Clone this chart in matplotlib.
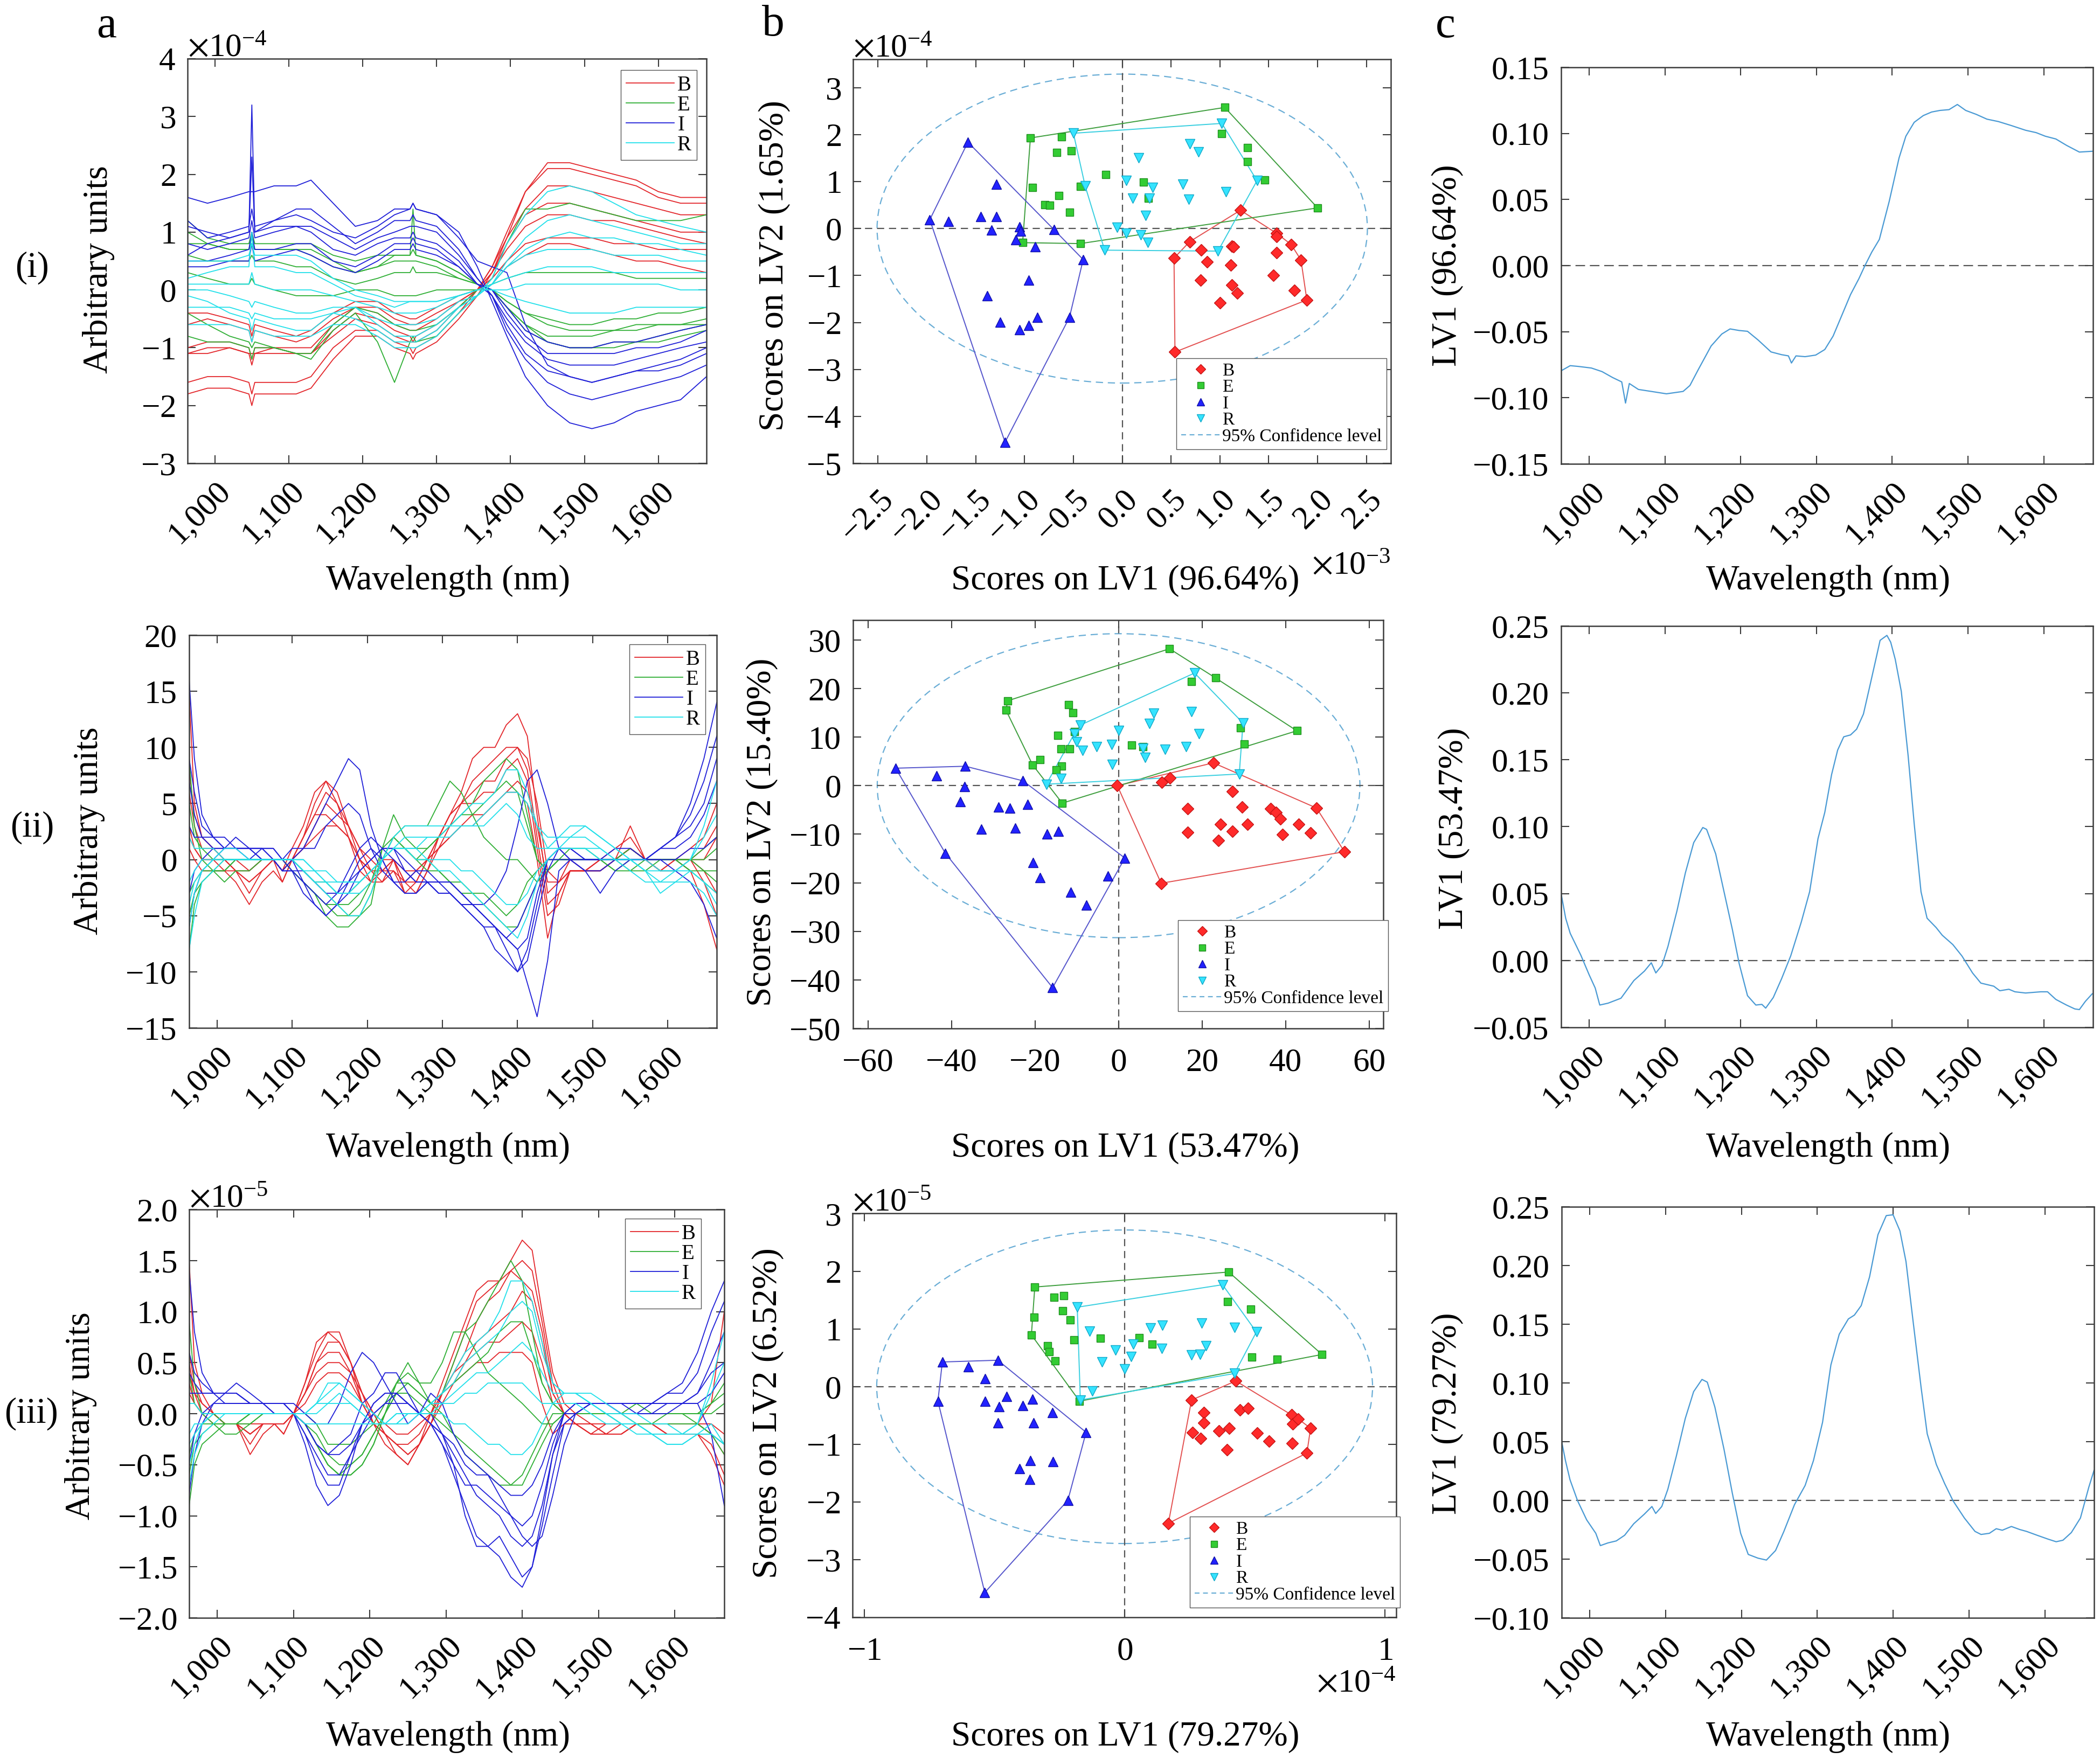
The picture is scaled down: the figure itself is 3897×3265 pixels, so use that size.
import numpy as np
import matplotlib
matplotlib.use('Agg')
import matplotlib.pyplot as plt
from matplotlib.patches import Ellipse
from matplotlib.lines import Line2D
from matplotlib.ticker import FuncFormatter, MultipleLocator

# ----------------------------------------------------------------------------
# DATA
# ----------------------------------------------------------------------------
classes = ['B', 'E', 'I', 'R']

# ---- column a, row (i): spectra, units of 1e-5 -------------------------------
wl_a1 = [963, 990, 1020, 1046, 1050, 1054, 1080, 1110, 1130, 1160, 1190, 1220, 1243, 1264, 1268,
         1272, 1300, 1330, 1355, 1375, 1395, 1420, 1450, 1480, 1510, 1540, 1570, 1600, 1630, 1665]
a1_B = [
    [-18, -17, -17, -18, -20, -18, -18, -18, -17, -12, -8, -8, -10, -11, -12, -11, -9, -5, -1, 3, 9, 17, 22, 22, 21, 20, 19, 17, 16, 16],
    [-16, -15, -15, -16, -18, -16, -16, -16, -15, -10, -7, -7, -9, -10, -11, -10, -8, -4, 0, 4, 10, 17, 21, 21, 20, 19, 18, 16, 15, 15],
    [-11, -10, -10, -11, -13, -11, -11, -11, -11, -7, -4, -5, -7, -8, -9, -8, -6, -3, 0, 3, 8, 13, 15, 15, 14, 13, 12, 11, 10, 10],
    [-10, -9, -9, -10, -12, -10, -10, -10, -10, -6, -3, -4, -6, -7, -7, -7, -5, -2, 0, 3, 7, 11, 13, 13, 12, 12, 11, 10, 9, 8],
    [-6, -5, -6, -7, -9, -7, -8, -9, -8, -5, -3, -3, -5, -6, -6, -6, -4, -2, 0, 2, 5, 8, 9, 9, 9, 8, 8, 7, 7, 7],
    [-4, -4, -5, -6, -8, -6, -7, -8, -7, -4, -2, -2, -4, -5, -5, -5, -3, -1, 0, 1, 4, 6, 8, 8, 7, 6, 5, 5, 4, 3],
    [-11, -11, -10, -11, -11, -11, -10, -11, -11, -8, -5, -6, -8, -9, -9, -9, -7, -3, 0, 4, 9, 14, 18, 18, 17, 16, 15, 14, 13, 13],
]
a1_E = [
    [12, 9, 8, 8, 10, 8, 8, 8, 8, 6, 5, 6, 6, 6, 14, 6, 5, 3, 1, 0, -3, -6, -8, -8, -8, -7, -7, -6, -6, -5],
    [8, 8, 7, 7, 9, 7, 7, 7, 7, 5, 3, 4, 5, 5, 5, 5, 4, 2, 1, 0, -3, -6, -9, -10, -10, -9, -9, -8, -7, -6],
    [6, 5, 5, 5, 6, 5, 5, 4, 4, 2, 1, 2, 3, 3, 4, 3, 3, 2, 1, 0, -2, -4, -5, -6, -6, -5, -5, -4, -4, -3],
    [-4, -6, -8, -9, -10, -9, -10, -11, -12, -7, -4, -9, -16, -9, -8, -9, -8, -4, -1, 2, 8, 14, 14, 15, 14, 13, 12, 12, 12, 13],
    [-8, -9, -9, -10, -12, -10, -10, -11, -11, -6, -3, -4, -6, -7, -7, -7, -6, -3, 0, 1, 2, 3, 3, 3, 3, 3, 2, 2, 2, 2],
    [3, 2, 1, 1, 2, 1, 0, -1, -1, -1, 0, 0, -1, -1, -1, -1, 0, 0, 0, 0, -2, -4, -6, -7, -7, -7, -6, -6, -6, -6],
    [10, 8, 7, 7, 8, 7, 7, 7, 6, 4, 3, 4, 6, 6, 7, 6, 5, 3, 1, 0, -3, -7, -9, -10, -10, -10, -9, -9, -8, -7],
]
a1_I = [
    [16, 15, 16, 17, 17, 17, 18, 18, 19, 15, 11, 12, 14, 14, 15, 14, 13, 10, 4, -2, -8, -15, -20, -23, -24, -23, -21, -20, -19, -15],
    [6, 8, 9, 10, 32, 10, 12, 14, 14, 11, 8, 10, 12, 12, 13, 12, 11, 7, 2, -1, -7, -12, -16, -18, -19, -18, -17, -16, -15, -13],
    [11, 10, 9, 10, 23, 10, 11, 11, 11, 9, 7, 9, 10, 11, 11, 11, 10, 6, 2, -1, -6, -11, -14, -15, -16, -15, -14, -13, -12, -10],
    [8, 7, 8, 9, 12, 9, 10, 11, 10, 7, 6, 8, 9, 9, 10, 9, 8, 5, 1, -1, -5, -9, -12, -13, -13, -13, -12, -11, -10, -9],
    [5, 5, 6, 7, 10, 7, 7, 8, 8, 5, 4, 6, 8, 8, 9, 8, 7, 4, 1, 0, -4, -8, -11, -11, -11, -11, -10, -10, -9, -7],
    [4, 4, 5, 5, 8, 5, 6, 7, 6, 4, 3, 5, 7, 7, 8, 7, 6, 4, 1, 0, -3, -7, -9, -10, -10, -9, -9, -8, -7, -6],
    [12, 9, 10, 11, 14, 11, 12, 13, 12, 10, 9, 11, 13, 14, 15, 14, 13, 9, 5, 4, 3, -6, -13, -15, -16, -15, -14, -14, -13, -11],
]
a1_R = [
    [-1, -2, -4, -5, -7, -5, -6, -7, -7, -4, -3, -6, -8, -8, -8, -8, -6, -3, -1, 2, 8, 13, 17, 18, 17, 15, 13, 12, 11, 10],
    [0, 0, -1, -2, -3, -2, -3, -4, -4, -3, -3, -5, -6, -6, -6, -6, -5, -2, -1, 1, 5, 9, 12, 13, 12, 11, 10, 9, 8, 8],
    [2, 3, 4, 4, 10, 4, 4, 3, 3, 1, -1, -2, -3, -2, -2, -2, -2, -1, 0, 1, 2, 3, 4, 4, 4, 3, 3, 3, 3, 3],
    [-3, -3, -3, -4, -5, -4, -5, -5, -5, -4, -5, -7, -9, -9, -9, -9, -7, -3, -1, 1, 4, 7, 9, 10, 9, 9, 8, 8, 7, 6],
    [5, 5, 5, 6, 8, 6, 6, 6, 5, 2, 0, -1, -2, -2, -2, -2, -2, -1, 0, 0, -1, -2, -3, -4, -4, -4, -3, -3, -3, -3],
    [-6, -6, -6, -7, -9, -7, -8, -8, -8, -6, -6, -8, -10, -10, -10, -10, -8, -4, -1, 1, 4, 6, 7, 7, 7, 6, 6, 6, 5, 5],
    [1, 1, 1, 1, 3, 1, 0, 0, 0, -1, -2, -3, -4, -4, -4, -4, -3, -1, 0, 0, 0, 1, 1, 1, 1, 1, 1, 1, 0, 0],
]

# ---- column a, rows (ii) and (iii): derivative spectra ----------------------
wl_a23 = [963, 970, 980, 995, 1010, 1025, 1043, 1060, 1075, 1087,
          1100, 1115, 1130, 1145, 1160, 1175, 1190, 1205, 1220, 1235,
          1250, 1265, 1280, 1295, 1310, 1325, 1340, 1355, 1370, 1385,
          1400, 1413, 1426, 1440, 1455, 1470, 1490, 1510, 1530, 1550,
          1570, 1590, 1610, 1630, 1648, 1665]
# row (ii), arbitrary units
a2_B = [
    [15, 5, 2, 1, 0, -1, -2, -1, 0, -1, 1, 3, 6, 7, 5, 2, -1, -2, -1, 0, -2, -3, -1, 2, 4, 6, 9, 10, 10, 12, 13, 11, 4, -3, -2, 0, -1, -1, 0, 1, 0, -1, 0, -1, -4, -8],
    [3, 1, 0, 0, -1, -2, -4, -2, -1, -2, 0, 2, 5, 7, 6, 3, 0, -1, -2, -1, -3, -3, -1, 1, 3, 5, 7, 8, 9, 10, 10, 8, 2, -4, -3, -1, -1, 0, 1, 2, 0, -1, 0, 0, -2, -5],
    [6, 3, 1, 1, 0, -1, -2, -1, 0, -1, 0, 1, 3, 5, 4, 3, 1, -1, -1, 0, -2, -2, 0, 2, 4, 5, 5, 6, 6, 8, 9, 7, 1, -5, -4, -1, -1, -1, 0, 1, 0, 0, 0, 1, 2, 5],
    [1, 0, -1, -1, -1, -1, -3, -1, 0, -2, 0, 2, 4, 4, 3, 2, 0, -2, -2, 0, -3, -2, 0, 1, 2, 3, 3, 4, 5, 6, 6, 5, 0, -7, -3, -1, -1, -1, 0, 3, 0, -1, -1, 0, 0, 2],
    [8, 4, 2, 1, 0, 0, -1, 0, 0, -1, 0, 2, 4, 6, 5, 3, 1, 0, -1, -1, -2, -1, 0, 2, 4, 5, 6, 7, 7, 9, 10, 9, 5, -1, -2, -1, -1, 0, 0, 1, 0, 0, 0, 0, -1, -3],
    [2, 1, 0, 0, 0, -1, -1, 0, 0, -1, 0, 1, 2, 3, 3, 2, 0, -1, 0, 0, -1, -1, 0, 1, 2, 3, 4, 4, 5, 6, 7, 6, 3, -2, -2, -1, -1, 0, 0, 1, 0, 0, 0, 0, 1, 3],
]
a2_E = [
    [9, 3, 0, -1, -2, -1, -1, 0, 0, 0, -1, -2, -3, -4, -5, -5, -5, -4, 1, 4, 2, 1, 1, 2, 3, 4, 5, 7, 8, 9, 8, 4, 0, -1, 0, 1, 1, 0, -1, 0, 0, 0, 0, -1, -1, -1],
    [-8, -4, -2, -1, 0, 0, 0, 0, 0, 0, -1, -2, -3, -5, -6, -6, -5, -3, 0, 2, 3, 3, 3, 5, 7, 6, 4, 2, 1, 0, 0, -1, -2, -1, 0, 0, 0, 0, 0, 0, 0, 0, 0, 0, 1, 2],
    [-3, -2, -1, -1, -1, 0, 0, 0, 0, 0, -1, -2, -3, -4, -4, -4, -3, -2, 1, 2, 1, 0, 0, -1, -2, -3, -3, -4, -5, -6, -6, -4, -2, 0, 0, 0, 0, 0, 0, -1, 0, 0, 0, -1, -2, -3],
    [5, 2, 1, 0, 0, 0, 0, 0, 0, 0, 0, -1, -2, -2, -3, -3, -2, -1, 0, 2, 1, 0, 1, 2, 3, 4, 4, 5, 6, 7, 6, 3, 0, -1, 0, 0, 0, 0, 0, 1, 0, 0, 0, 0, 0, 1],
    [-5, -3, -2, -1, -1, 0, 0, 0, 0, 0, 0, -1, -2, -3, -4, -5, -4, -2, 0, 1, 1, 0, -1, -1, -2, -2, -3, -3, -4, -5, -4, -2, -1, 0, 0, 0, 0, 0, -1, -1, -1, 0, 0, 0, -1, -2],
]
a2_I = [
    [16, 9, 4, 2, 1, 1, 1, 1, 1, 0, -1, -3, -4, -5, -4, -2, 0, 1, 0, -2, -3, -3, -2, -3, -3, -4, -5, -6, -6, -7, -8, -11, -14, -9, -1, 0, -1, -1, 0, 0, 0, 1, 2, 5, 9, 14],
    [9, 6, 3, 2, 2, 1, 1, 0, 0, -1, 0, 1, 3, 5, 7, 9, 8, 3, 0, -2, -3, -3, -2, -2, -3, -4, -4, -5, -6, -8, -10, -9, -5, -1, 1, 0, -1, -3, -1, 0, 0, 1, 2, 4, 7, 11],
    [-6, -3, -1, 0, 1, 2, 1, 1, 0, -1, -1, -2, -3, -4, -3, -1, 1, 2, 1, 0, -1, -2, -2, -2, -2, -3, -4, -4, -3, -1, 3, 7, 8, 5, 1, 0, 0, 0, 0, 0, 0, 0, 0, 1, 1, 2],
    [7, 4, 2, 1, 1, 1, 0, 1, 1, 0, 0, -2, -4, -5, -4, -3, -1, 0, 1, 1, -1, -2, -2, -3, -3, -4, -5, -6, -8, -9, -10, -8, -4, 0, 1, 1, 0, 0, 0, 0, 0, 1, 1, 2, 4, 7],
    [-3, -1, 0, 1, 1, 1, 1, 0, 0, -1, -1, -1, -2, -3, -3, -2, -1, 0, 1, 1, 0, -1, -2, -3, -3, -4, -4, -5, -6, -7, -6, -4, -2, 0, 0, 0, 0, 0, 0, 0, 0, 0, -1, -2, -4, -7],
    [3, 2, 2, 2, 1, 1, 1, 1, 0, 0, 1, 1, 1, 3, 4, 5, 4, 1, -1, -2, -2, -1, -1, -2, -2, -3, -4, -5, -6, -7, -8, -7, -3, 0, 1, 1, 0, 0, 1, 1, 0, 1, 2, 3, 5, 9],
]
a2_R = [
    [-8, -5, -2, -1, 0, 0, 0, 0, 0, 0, 0, -1, -2, -3, -4, -5, -5, -3, 0, 1, 1, 1, 2, 2, 3, 4, 5, 5, 6, 8, 8, 6, 3, 1, 1, 2, 3, 2, 1, 0, -1, -1, -1, 0, 3, 7],
    [-4, -2, -1, 0, 0, 0, 0, 0, 0, 0, 0, -1, -2, -2, -3, -3, -2, -1, 0, 1, 2, 2, 2, 2, 2, 3, 3, 4, 5, 6, 6, 5, 3, 2, 2, 2, 2, 1, 0, -1, -2, -2, -1, -1, -2, -3],
    [2, 1, 1, 1, 0, 0, 0, 0, 0, 0, 0, 0, -1, -1, -2, -2, -2, -1, 0, 1, 1, 1, 0, -1, -1, -2, -3, -4, -5, -6, -7, -5, -2, 0, 1, 1, 1, 1, 0, 0, -1, -3, -2, -1, -2, -4],
    [-6, -3, -1, 0, 1, 1, 0, 0, 0, 0, 0, 0, -1, -2, -3, -3, -3, -2, 0, 2, 3, 3, 3, 3, 3, 3, 3, 3, 4, 5, 4, 2, 1, 1, 2, 3, 3, 2, 1, 0, 0, -1, -1, 0, 2, 4],
    [-2, -1, 0, 0, 0, 0, 0, 0, 0, 0, 0, -1, -1, -2, -2, -2, -2, -1, 0, 1, 1, 0, 0, 0, 0, -1, -1, -2, -3, -4, -4, -3, -1, 0, 1, 1, 1, 0, 0, 0, -1, -2, -2, -2, -3, -5],
]
# row (iii), units of 1e-6
a3_B = [
    [15, 5, 2, 0, -1, -1, -4, -2, -1, -2, 0, 3, 7, 8, 8, 5, 1, -1, -2, -4, -5, -3, -1, 2, 5, 8, 11, 12, 13, 15, 17, 16, 10, 4, 1, 0, -1, -2, -2, -1, -1, -2, -2, -2, -4, -7],
    [4, 2, 0, -1, -1, -1, -3, -1, -1, -2, 0, 3, 6, 8, 7, 5, 2, -1, -3, -4, -5, -3, -1, 2, 4, 6, 9, 11, 12, 14, 15, 14, 9, 3, 0, -1, -1, -2, -1, -1, -1, -1, -1, -1, 1, 10],
    [2, 1, 0, 0, -1, -1, -2, -1, -1, -1, 0, 2, 5, 6, 6, 4, 1, -1, -2, -3, -4, -3, -1, 1, 3, 5, 7, 8, 9, 10, 12, 11, 7, 2, 0, -1, -2, -2, -2, -1, -1, -2, -2, -2, -3, -6],
    [6, 3, 1, 0, -1, -1, -2, -1, -1, -1, 0, 2, 4, 5, 5, 4, 2, 0, -2, -3, -3, -2, 0, 2, 4, 5, 6, 7, 7, 8, 9, 8, 5, 1, 0, -1, -2, -1, -1, -1, -1, -1, -1, -1, -2, -4],
    [3, 1, 0, 0, -1, -1, -1, -1, -1, -1, 0, 1, 3, 4, 4, 3, 1, 0, -1, -2, -2, -1, 0, 2, 3, 4, 5, 5, 6, 6, 6, 5, 1, -2, -1, -1, -1, -1, -1, -1, -1, -1, -1, -1, -1, -2],
    [5, 2, 1, 0, -1, -1, -2, -1, -1, -1, 0, 2, 5, 7, 7, 5, 2, 0, -2, -3, -4, -3, 0, 3, 6, 9, 12, 13, 13, 14, 13, 12, 8, 2, 0, -1, -2, -2, -2, -1, -1, -2, -2, -2, -2, -3],
]
a3_E = [
    [9, 3, 0, -1, -2, -2, -1, 0, 0, 0, 0, -1, -3, -5, -6, -6, -5, -3, 0, 3, 5, 3, 1, 2, 5, 8, 9, 11, 13, 15, 13, 8, 3, 1, 0, 0, 0, 0, 0, 1, 0, 0, 0, 0, 0, 1],
    [-9, -5, -3, -2, -1, -1, -1, 0, 0, 0, 0, -1, -3, -5, -6, -6, -5, -3, 0, 3, 4, 3, 3, 5, 8, 8, 6, 4, 3, 2, 1, 0, -1, -1, 0, 0, 0, 0, 0, 0, 0, 0, 0, 0, 1, 3],
    [-4, -2, -1, -1, -1, -1, 0, 0, 0, 0, 0, -1, -2, -4, -5, -5, -4, -2, 0, 2, 3, 2, 1, 0, -2, -4, -5, -6, -7, -7, -7, -5, -3, -1, 0, 0, 0, 0, -1, -1, -1, -1, -1, -1, -2, -4],
    [4, 1, 0, 0, -1, -1, 0, 0, 0, 0, 0, 0, -1, -3, -3, -3, -2, -1, 1, 3, 3, 2, 1, 2, 3, 4, 5, 6, 8, 9, 9, 6, 3, 1, 0, 0, 0, 0, 0, 0, 0, 0, 0, 0, 1, 2],
    [-6, -3, -2, -1, -1, -1, 0, 0, 0, 0, 0, -1, -3, -5, -6, -5, -4, -2, 0, 2, 2, 1, 0, -1, -2, -3, -4, -5, -6, -7, -6, -4, -2, 0, 0, 0, 0, 0, 0, -1, -1, 0, 0, -1, -2, -3],
]
a3_I = [
    [14, 8, 4, 2, 2, 2, 1, 1, 1, 1, 0, -2, -5, -7, -7, -4, -1, 1, 2, 2, 1, 0, -1, -3, -6, -9, -12, -13, -14, -16, -17, -15, -10, -4, 0, 1, 1, 1, 1, 1, 1, 2, 3, 6, 10, 13],
    [6, 4, 3, 2, 2, 2, 1, 1, 1, 1, 0, -3, -7, -9, -8, -5, -1, 1, 2, 2, 1, 0, 0, -2, -5, -10, -13, -13, -12, -14, -16, -15, -11, -6, -1, 0, 1, 1, 1, 1, 1, 2, 2, 4, 8, 11],
    [-8, -4, -1, 1, 2, 3, 2, 1, 1, 1, 1, 0, -1, -1, 1, 4, 6, 5, 3, 1, -1, 0, 2, 1, -2, -4, -5, -6, -8, -10, -12, -13, -12, -8, -3, 0, 1, 1, 1, 1, 1, 1, 1, 1, -2, -9],
    [-5, -2, 0, 1, 1, 1, 1, 1, 0, 0, 0, -1, -3, -4, -3, -2, 1, 2, 4, 4, 2, 0, -1, -3, -5, -7, -7, -8, -9, -10, -11, -10, -7, -3, 0, 1, 1, 1, 0, 0, 1, 1, 1, 2, 4, 5],
    [4, 3, 2, 2, 1, 1, 1, 1, 0, 0, 0, -2, -4, -6, -6, -4, -2, 0, 1, 2, 1, 0, -1, -2, -4, -6, -8, -9, -10, -12, -13, -12, -9, -4, -1, 0, 1, 1, 1, 0, 0, 1, 1, 2, 5, 8],
    [2, 2, 2, 2, 2, 2, 1, 1, 1, 1, 0, -1, -3, -4, -4, -3, -1, 0, 1, 1, 1, 0, -1, -2, -3, -5, -6, -6, -7, -8, -8, -7, -5, -2, 0, 0, 1, 1, 0, 0, 0, 0, 1, 1, 2, 4],
]
a3_R = [
    [-7, -4, -2, -1, 0, 0, 0, 0, 0, 0, 0, 0, 1, 2, 3, 2, 1, 0, -1, -1, -1, 0, 1, 2, 4, 6, 7, 8, 10, 13, 13, 11, 7, 3, 2, 2, 1, 0, -1, -1, -2, -2, -2, -1, 3, 8],
    [-3, -2, -1, 0, 0, 0, 0, 0, 0, 0, 0, 0, 1, 3, 3, 2, 1, 0, -1, -1, 0, 0, 1, 2, 3, 5, 6, 7, 8, 10, 11, 10, 6, 3, 2, 2, 2, 1, 0, -1, -2, -3, -3, -2, -1, -3],
    [1, 1, 0, 0, 0, 0, 0, 0, 0, 0, 0, -1, -1, -1, -1, -1, -1, -1, -1, 0, 0, 0, 0, 0, -1, -1, -2, -3, -3, -4, -4, -3, -1, 1, 2, 2, 1, 0, 0, 0, -1, -1, -2, -2, -2, -3],
    [-5, -3, -1, 0, 0, 0, 0, 0, 0, 0, 0, 0, 0, 1, 1, 1, 0, -1, -1, 0, 0, 0, 1, 1, 2, 3, 4, 4, 5, 6, 7, 6, 4, 2, 2, 2, 1, 0, -1, -1, -2, -2, -2, -1, 2, 5],
    [-2, -1, -1, 0, 0, 0, 0, 0, 0, 0, 0, 0, 1, 1, 2, 1, 0, -1, -1, -1, 0, 0, 0, 1, 1, 2, 2, 3, 3, 3, 3, 2, 1, 1, 1, 1, 0, -1, -1, -2, -2, -3, -3, -2, -2, -3],
]

# ---- column b: scores (LV1, LV2) --------------------------------------------
# row (i): LV1 in 1e-3, LV2 in 1e-4
b1_B = [(1.21, 0.39), (1.58, -0.10), (1.58, -0.17), (1.73, -0.34), (0.69, -0.28), (0.53, -0.63), (0.81, -0.46),
        (0.87, -0.71), (1.12, -0.37), (1.14, -0.39), (1.11, -0.78), (1.58, -0.51), (1.83, -0.67), (0.80, -1.10),
        (1.12, -1.20), (1.18, -1.37), (1.00, -1.58), (1.55, -1.00), (1.76, -1.32), (1.89, -1.52), (0.54, -2.63)]
b1_E = [(-0.94, 1.93), (-0.62, 1.95), (-0.67, 1.62), (-0.52, 1.65), (-0.17, 1.15), (-0.92, 0.87), (-0.43, 0.90),
        (-0.65, 0.70), (-0.79, 0.51), (-0.74, 0.50), (-0.54, 0.35), (-1.02, -0.30), (-0.43, -0.32), (1.05, 2.58),
        (1.02, 2.02), (1.28, 1.72), (1.28, 1.43), (1.46, 1.03), (2.00, 0.44), (0.22, 0.99), (0.27, 0.64)]
b1_I = [(-1.58, 1.84), (-1.29, 0.94), (-1.97, 0.19), (-1.78, 0.15), (-1.45, 0.25), (-1.29, 0.25), (-1.34, -0.03),
        (-1.05, 0.04), (-1.04, -0.05), (-1.09, -0.24), (-0.89, -0.39), (-0.70, -0.02), (-0.40, -0.66), (-0.96, -1.10),
        (-1.38, -1.43), (-1.25, -1.99), (-1.05, -2.16), (-0.96, -2.06), (-0.87, -1.89), (-0.54, -1.89), (-1.20, -4.55)]
b1_R = [(-0.50, 2.03), (1.02, 2.24), (-0.38, 0.91), (0.17, 1.51), (0.69, 1.80), (0.78, 1.63), (0.04, 1.02),
        (0.31, 0.88), (0.62, 0.94), (1.06, 0.78), (1.38, 1.02), (0.11, 0.64), (0.28, 0.64), (0.24, 0.28),
        (0.68, 0.62), (-0.05, 0.03), (0.04, -0.10), (0.19, -0.14), (0.26, -0.30), (-0.18, -0.46), (0.98, -0.48)]
# row (ii): plain units
b2_B = [(-0.3, 0.0), (10.4, 0.7), (12.3, 1.6), (22.7, 4.7), (27.2, -1.2), (16.6, -4.7), (29.6, -4.4), (36.4, -4.7),
        (37.7, -5.5), (38.8, -6.8), (47.4, -4.6), (16.6, -9.6), (24.4, -7.9), (30.9, -8.0), (23.9, -11.3),
        (27.2, -9.4), (39.3, -10.1), (43.2, -7.9), (46.0, -9.7), (54.1, -13.6), (10.2, -20.1)]
b2_E = [(-26.5, 17.5), (-27.0, 15.6), (12.2, 28.2), (23.2, 22.2), (17.4, 21.4), (-12.0, 16.7), (-10.9, 15.0),
        (-14.6, 10.4), (-10.6, 11.1), (-13.8, 7.6), (-11.7, 7.6), (-18.8, 5.4), (-20.6, 4.3), (-13.7, 4.0),
        (-14.9, 3.3), (-13.5, -3.6), (3.1, 8.4), (5.9, 8.0), (29.2, 11.9), (30.1, 8.6), (42.7, 11.3)]
b2_I = [(-53.4, 3.6), (-36.7, 4.0), (-43.6, 2.0), (-36.9, -0.2), (-37.9, -3.3), (-22.9, 1.0), (-28.7, -4.4),
        (-26.0, -4.6), (-21.8, -3.8), (-32.9, -8.9), (-24.7, -8.7), (-17.1, -10.0), (-14.4, -9.4), (-41.5, -13.9),
        (-20.5, -15.8), (-18.8, -18.9), (-11.4, -21.9), (-7.7, -24.6), (-2.5, -18.6), (1.5, -14.9), (-15.8, -41.6)]
b2_R = [(18.2, 23.2), (29.8, 12.9), (28.9, 2.4), (-17.3, 0.3), (-13.8, 1.5), (-9.1, 12.5), (-10.6, 10.7),
        (-10.0, 9.0), (-8.6, 7.2), (-5.3, 8.0), (-1.6, 8.5), (0.0, 11.4), (-1.5, 4.4), (8.4, 14.9), (7.4, 12.8),
        (5.9, 7.7), (6.3, 5.8), (11.1, 7.5), (16.1, 8.0), (17.5, 15.2), (19.2, 10.7)]
# row (iii): LV1 in 1e-4, LV2 in 1e-5
b3_B = [(0.427, 0.10), (0.257, -0.23), (0.305, -0.45), (0.304, -0.63), (0.261, -0.79), (0.292, -0.90),
        (0.362, -0.77), (0.401, -0.72), (0.443, -0.40), (0.473, -0.37), (0.393, -1.09), (0.509, -0.80),
        (0.554, -0.94), (0.641, -0.49), (0.645, -0.64), (0.667, -0.56), (0.714, -0.72), (0.643, -0.98),
        (0.700, -1.15), (0.168, -2.37)]
b3_E = [(-0.345, 1.73), (-0.271, 1.55), (-0.233, 1.58), (-0.238, 1.32), (-0.209, 1.16), (-0.348, 1.21),
        (-0.358, 0.90), (-0.194, 0.81), (-0.295, 0.71), (-0.290, 0.61), (-0.266, 0.45), (-0.173, -0.25),
        (-0.094, 0.84), (0.055, 0.85), (0.105, 0.74), (0.400, 1.99), (0.396, 1.48), (0.484, 1.35),
        (0.489, 0.51), (0.585, 0.48), (0.758, 0.56)]
b3_I = [(-0.700, 0.43), (-0.487, 0.46), (-0.600, 0.35), (-0.535, 0.14), (-0.717, -0.25), (-0.535, -0.25),
        (-0.482, -0.35), (-0.453, -0.17), (-0.391, -0.33), (-0.353, -0.21), (-0.487, -0.63), (-0.350, -0.63),
        (-0.278, -0.45), (-0.148, -0.79), (-0.362, -1.28), (-0.276, -1.30), (-0.403, -1.42), (-0.364, -1.61),
        (-0.218, -1.97), (-0.537, -3.57)]
b3_R = [(-0.182, 1.38), (0.376, 1.77), (0.506, 0.95), (0.422, 0.23), (-0.170, -0.23), (-0.125, -0.07),
        (-0.134, 0.96), (-0.036, 0.64), (-0.087, 0.43), (0.000, 0.31), (0.024, 0.52), (0.033, 0.74),
        (0.100, 1.02), (0.144, 1.07), (0.142, 0.66), (0.295, 1.10), (0.422, 1.03), (0.257, 0.55),
        (0.290, 0.56), (0.312, 0.71)]
# 95% confidence ellipses (semi-axes, same units as the scores above)
ell_b1 = (2.51, 3.29)
ell_b2 = (57.8, 31.3)
ell_b3 = (0.952, 2.72)
exp_b1 = (1e-3, 1e-4)
exp_b2 = (1.0, 1.0)
exp_b3 = (1e-4, 1e-5)

# ---- column c: LV1 loadings -------------------------------------------------
c1 = [(963, -0.0796), (975, -0.0757), (986, -0.0763), (1003, -0.0775), (1017, -0.0802), (1031, -0.0847),
      (1043, -0.0880), (1048, -0.1040), (1053, -0.0892), (1065, -0.0937), (1082, -0.0952), (1102, -0.0970),
      (1113, -0.0961), (1124, -0.0952), (1133, -0.0907), (1144, -0.0787), (1161, -0.0608), (1175, -0.0518),
      (1186, -0.0479), (1198, -0.0491), (1209, -0.0497), (1223, -0.0563), (1240, -0.0653), (1254, -0.0674),
      (1263, -0.0683), (1267, -0.0737), (1273, -0.0683), (1285, -0.0689), (1299, -0.0677), (1311, -0.0635),
      (1322, -0.0533), (1333, -0.0383), (1345, -0.0219), (1356, -0.0099), (1364, 0.0000), (1373, 0.0102),
      (1383, 0.0198), (1396, 0.0485), (1409, 0.0814), (1418, 0.0979), (1429, 0.1084), (1441, 0.1135),
      (1452, 0.1162), (1463, 0.1174), (1475, 0.1180), (1486, 0.1219), (1497, 0.1174), (1511, 0.1144),
      (1525, 0.1108), (1540, 0.1090), (1557, 0.1060), (1576, 0.1024), (1590, 0.1006), (1602, 0.0979),
      (1616, 0.0958), (1630, 0.0910), (1647, 0.0859), (1664, 0.0865)]
c2 = [(963, 0.0500), (969, 0.0316), (975, 0.0203), (989, 0.0040), (1000, -0.0107), (1008, -0.0206),
      (1014, -0.0333), (1025, -0.0319), (1042, -0.0282), (1059, -0.0150), (1073, -0.0079), (1082, -0.0017),
      (1088, -0.0093), (1096, -0.0037), (1104, 0.0105), (1116, 0.0373), (1127, 0.0655), (1138, 0.0881),
      (1150, 0.0994), (1155, 0.0980), (1167, 0.0797), (1178, 0.0514), (1189, 0.0232), (1198, -0.0023),
      (1209, -0.0263), (1220, -0.0333), (1228, -0.0328), (1233, -0.0356), (1243, -0.0277), (1254, -0.0136),
      (1266, 0.0034), (1280, 0.0288), (1291, 0.0514), (1302, 0.0910), (1311, 0.1107), (1320, 0.1390),
      (1328, 0.1573), (1336, 0.1672), (1345, 0.1686), (1353, 0.1729), (1362, 0.1842), (1370, 0.2040),
      (1379, 0.2266), (1384, 0.2393), (1393, 0.2430), (1398, 0.2379), (1404, 0.2251), (1412, 0.2011),
      (1421, 0.1531), (1429, 0.1023), (1438, 0.0514), (1446, 0.0316), (1458, 0.0246), (1466, 0.0189),
      (1480, 0.0119), (1492, 0.0034), (1506, -0.0093), (1517, -0.0169), (1534, -0.0192), (1542, -0.0226),
      (1554, -0.0215), (1562, -0.0234), (1576, -0.0243), (1596, -0.0234), (1605, -0.0234), (1616, -0.0291),
      (1630, -0.0333), (1641, -0.0362), (1647, -0.0367), (1655, -0.0305), (1664, -0.0249)]
c3 = [(963, 0.0502), (968, 0.0339), (974, 0.0176), (984, -0.0003), (996, -0.0166), (1008, -0.0280),
      (1014, -0.0385), (1024, -0.0362), (1035, -0.0345), (1046, -0.0297), (1058, -0.0199), (1072, -0.0117),
      (1082, -0.0052), (1087, -0.0111), (1095, -0.0052), (1103, 0.0095), (1114, 0.0372), (1126, 0.0698),
      (1137, 0.0926), (1148, 0.1030), (1155, 0.1007), (1165, 0.0795), (1177, 0.0437), (1188, 0.0062),
      (1199, -0.0280), (1209, -0.0460), (1222, -0.0492), (1233, -0.0508), (1245, -0.0427), (1256, -0.0264),
      (1270, -0.0036), (1284, 0.0127), (1295, 0.0339), (1307, 0.0665), (1318, 0.1154), (1329, 0.1415),
      (1341, 0.1545), (1349, 0.1578), (1358, 0.1659), (1369, 0.1904), (1380, 0.2262), (1391, 0.2425),
      (1400, 0.2432), (1409, 0.2295), (1417, 0.2034), (1426, 0.1545), (1437, 0.0958), (1445, 0.0567),
      (1457, 0.0306), (1468, 0.0143), (1479, -0.0003), (1494, -0.0150), (1508, -0.0264), (1516, -0.0290),
      (1527, -0.0280), (1536, -0.0241), (1544, -0.0254), (1556, -0.0222), (1567, -0.0248), (1576, -0.0264),
      (1590, -0.0297), (1604, -0.0329), (1615, -0.0352), (1624, -0.0339), (1635, -0.0274), (1647, -0.0150),
      (1658, 0.0111), (1665, 0.0257)]

row_labels = ['(i)', '(ii)', '(iii)']
panel_letters = ['a', 'b', 'c']
b_xlabels = ['Scores on LV1 (96.64%)', 'Scores on LV1 (53.47%)', 'Scores on LV1 (79.27%)']
b_ylabels = ['Scores on LV2 (1.65%)', 'Scores on LV2 (15.40%)', 'Scores on LV2 (6.52%)']
c_ylabels = ['LV1 (96.64%)', 'LV1 (53.47%)', 'LV1 (79.27%)']

# ----------------------------------------------------------------------------
# STYLE / LAYOUT
# ----------------------------------------------------------------------------
W, H, DPI = 3898, 3265, 100
plt.rcParams['font.family'] = ['Liberation Serif', 'DejaVu Serif']
plt.rcParams['mathtext.fontset'] = 'stix'
plt.rcParams['axes.unicode_minus'] = True

line_col = {'B': '#E3262B', 'E': '#2FAF35', 'I': '#2020D8', 'R': '#22E0EA'}
mk = {'B': ('D', 11.0, '#FF2A2A', '#C41414'),
      'E': ('s', 10.5, '#33CC33', '#1F8F1F'),
      'I': ('^', 13.0, '#2222FF', '#1010A8'),
      'R': ('v', 13.0, '#35E3FF', '#10A9C8')}
hull_col = {'B': '#E35050', 'E': '#3E9E3E', 'I': '#5656CC', 'R': '#3ACFE0'}
EDGE = '#3c3c3c'
ELL_COL = '#6BAED6'
TICK_FS = 44
LABEL_FS = 47

fig = plt.figure(figsize=(W / DPI, H / DPI), dpi=DPI)


def px_axes(l, t, r, b):
    return fig.add_axes([l / W, 1 - b / H, (r - l) / W, (b - t) / H])


def style(ax, xpad=18, ypad=16):
    for s in ax.spines.values():
        s.set_color(EDGE)
        s.set_linewidth(1.8)
    ax.tick_params(which='both', direction='in', top=True, right=True, length=11, width=1.5,
                   color=EDGE, labelsize=TICK_FS, labelcolor='black')
    ax.tick_params(axis='x', pad=xpad)
    ax.tick_params(axis='y', pad=ypad)


def place_xlabel(ax, text, cx, cy):
    ax.set_xlabel(text, fontsize=LABEL_FS)
    p = ax.get_position()
    ax.xaxis.set_label_coords((cx / W - p.x0) / p.width, ((1 - cy / H) - p.y0) / p.height)
    ax.xaxis.label.set_va('center')


def place_ylabel(ax, text, cx, cy):
    ax.set_ylabel(text, fontsize=LABEL_FS)
    p = ax.get_position()
    ax.yaxis.set_label_coords((cx / W - p.x0) / p.width, ((1 - cy / H) - p.y0) / p.height)
    ax.yaxis.label.set_va('center')
    ax.yaxis.label.set_ha('center')


def rotate_xticks(ax):
    plt.setp(ax.get_xticklabels(), rotation=45, ha='right', va='top', rotation_mode='anchor')


def convex_hull(pts):
    pts = sorted(set(pts))

    def cross(o, a, b):
        return (a[0] - o[0]) * (b[1] - o[1]) - (a[1] - o[1]) * (b[0] - o[0])
    lower, upper = [], []
    for p in pts:
        while len(lower) >= 2 and cross(lower[-2], lower[-1], p) <= 0:
            lower.pop()
        lower.append(p)
    for p in reversed(pts):
        while len(upper) >= 2 and cross(upper[-2], upper[-1], p) <= 0:
            upper.pop()
        upper.append(p)
    hull = lower[:-1] + upper[:-1]
    return hull + [hull[0]]


wl_fmt = FuncFormatter(lambda v, p: f'{v:,.0f}')


def c_fmt(v, p):
    if abs(v) < 1e-12:
        v = 0.0
    return f'{v:.2f}'.replace('-', '\u2212')


# axes boxes (left, top, right, bottom) in pixels
a_boxes = [(348, 109, 1311, 860), (351, 1179, 1330, 1908), (351, 2245, 1344, 3003)]
b_boxes = [(1583, 110, 2581, 860), (1583, 1151, 2567, 1909), (1582, 2252, 2591, 3002)]
c_boxes = [(2897, 125, 3884, 861), (2897, 1162, 3884, 1907), (2898, 2240, 3886, 3003)]
xlabel_y = [1078, 2131, 3224]
a_ylab = [(183, 500), (165, 1542), (150, 2628)]
b_ylab = [(1437, 493), (1414, 1545), (1425, 2623)]
c_ylab = [(2686, 493), (2698, 1538), (2686, 2624)]
a_leg = [(1293, 130), (1309, 1196), (1301, 2262)]
b_leg = [(2573, 834), (2576, 1877), (2598, 2984)]

# ----------------------------------------------------------------------------
# COLUMN a: spectra
# ----------------------------------------------------------------------------
a_data = [
    (wl_a1, {'B': a1_B, 'E': a1_E, 'I': a1_I, 'R': a1_R}, 1e-5, (-3e-4, 4e-4), 1e-4, True),
    (wl_a23, {'B': a2_B, 'E': a2_E, 'I': a2_I, 'R': a2_R}, 1.0, (-15, 20), 5, False),
    (wl_a23, {'B': a3_B, 'E': a3_E, 'I': a3_I, 'R': a3_R}, 1e-6, (-2e-5, 2e-5), 0.5e-5, True),
]
for r, (wl, sets, unit, ylim, ystep, sci) in enumerate(a_data):
    ax = px_axes(*a_boxes[r])
    for c in classes:
        for spec in sets[c]:
            ax.plot(wl, np.array(spec) * unit, color=line_col[c], lw=1.3)
    ax.set_xlim(963, 1665)
    ax.set_ylim(*ylim)
    ax.xaxis.set_major_locator(MultipleLocator(100))
    ax.yaxis.set_major_locator(MultipleLocator(ystep))
    ax.xaxis.set_major_formatter(wl_fmt)
    style(ax, xpad=16, ypad=16)
    if sci:
        ax.ticklabel_format(axis='y', style='sci', scilimits=(0, 0), useMathText=True)
        ax.yaxis.get_offset_text().set_fontsize(44)
    rotate_xticks(ax)
    place_xlabel(ax, 'Wavelength (nm)', 832, xlabel_y[r])
    place_ylabel(ax, 'Arbitrary units', *a_ylab[r])
    handles = [Line2D([], [], color=line_col[c], lw=1.3) for c in classes]
    lx, ly = a_leg[r]
    ax.legend(handles, classes, loc='upper right', bbox_to_anchor=(lx / W, 1 - ly / H),
              bbox_transform=fig.transFigure, fontsize=28, frameon=True, fancybox=False,
              edgecolor='#555555', framealpha=1, labelspacing=0.0, handlelength=2.3,
              handletextpad=0.15, borderpad=0.25, borderaxespad=0)

# ----------------------------------------------------------------------------
# COLUMN b: score plots
# ----------------------------------------------------------------------------
b_data = [
    ({'B': b1_B, 'E': b1_E, 'I': b1_I, 'R': b1_R}, ell_b1, exp_b1,
     (-2.756e-3, 2.75e-3), (-5e-4, 3.606e-4), 0.5e-3, 1e-4, True),
    ({'B': b2_B, 'E': b2_E, 'I': b2_I, 'R': b2_R}, ell_b2, exp_b2,
     (-63.6, 63.4), (-50, 34.1), 20, 10, False),
    ({'B': b3_B, 'E': b3_E, 'I': b3_I, 'R': b3_R}, ell_b3, exp_b3,
     (-1.045e-4, 1.043e-4), (-4e-5, 3.01e-5), 1e-4, 1e-5, True),
]
for r, (pts, ell, (ux, uy), xlim, ylim, xstep, ystep, sci) in enumerate(b_data):
    ax = px_axes(*b_boxes[r])
    ax.add_patch(Ellipse((0, 0), 2 * ell[0] * ux, 2 * ell[1] * uy, fill=False, ec=ELL_COL,
                         ls=(0, (6, 4)), lw=1.6, zorder=1))
    ax.axhline(0, color='#555555', ls=(0, (6, 4)), lw=1.6, zorder=1)
    ax.axvline(0, color='#555555', ls=(0, (6, 4)), lw=1.6, zorder=1)
    for c in classes:
        hull = convex_hull(pts[c])
        ax.plot([p[0] * ux for p in hull], [p[1] * uy for p in hull], color=hull_col[c], lw=1.4, zorder=2)
    for c in classes:
        m, ms, fc, ec = mk[c]
        ax.plot([p[0] * ux for p in pts[c]], [p[1] * uy for p in pts[c]], ls='none', marker=m, ms=ms,
                mfc=fc, mec=ec, mew=1.0, zorder=3)
    ax.set_xlim(*xlim)
    ax.set_ylim(*ylim)
    ax.xaxis.set_major_locator(MultipleLocator(xstep))
    ax.yaxis.set_major_locator(MultipleLocator(ystep))
    style(ax, xpad=(30 if r == 0 else 26), ypad=16)
    if sci:
        ax.ticklabel_format(axis='both', style='sci', scilimits=(0, 0), useMathText=True)
        ax.xaxis.get_offset_text().set_fontsize(44)
        ax.yaxis.get_offset_text().set_fontsize(44)
    if r == 0:
        rotate_xticks(ax)
    place_xlabel(ax, b_xlabels[r], 2088, xlabel_y[r])
    place_ylabel(ax, b_ylabels[r], *b_ylab[r])
    handles = [Line2D([], [], ls='none', marker=mk[c][0], ms=mk[c][1] * 0.8, mfc=mk[c][2], mec=mk[c][3])
               for c in classes]
    handles.append(Line2D([], [], color=ELL_COL, ls=(0, (4, 3)), lw=1.6))
    lx, ly = b_leg[r]
    leg = ax.legend(handles, classes + ['95% Confidence level'], loc='lower right',
                    bbox_to_anchor=(lx / W, 1 - ly / H), bbox_transform=fig.transFigure,
                    fontsize=24, frameon=True, fancybox=False, edgecolor='#555555', framealpha=1,
                    labelspacing=0.0, handlelength=2.2, handletextpad=0.1, borderpad=0.25,
                    borderaxespad=0)
    leg.set_zorder(5)

# ----------------------------------------------------------------------------
# COLUMN c: LV1 loadings
# ----------------------------------------------------------------------------
c_data = [(c1, (-0.15, 0.15)), (c2, (-0.05, 0.25)), (c3, (-0.10, 0.25))]
for r, (curve, ylim) in enumerate(c_data):
    ax = px_axes(*c_boxes[r])
    ax.axhline(0, color='#555555', ls=(0, (8, 4)), lw=1.6, zorder=1)
    ax.plot([p[0] for p in curve], [p[1] for p in curve], color='#4A9AD4', lw=1.6, zorder=2)
    ax.set_xlim(963, 1665)
    ax.set_ylim(*ylim)
    ax.xaxis.set_major_locator(MultipleLocator(100))
    ax.yaxis.set_major_locator(MultipleLocator(0.05))
    ax.xaxis.set_major_formatter(wl_fmt)
    ax.yaxis.set_major_formatter(FuncFormatter(c_fmt))
    style(ax, xpad=16, ypad=16)
    rotate_xticks(ax)
    place_xlabel(ax, 'Wavelength (nm)', 3392, xlabel_y[r])
    place_ylabel(ax, c_ylabels[r], *c_ylab[r])

# ----------------------------------------------------------------------------
# panel letters and row labels
# ----------------------------------------------------------------------------
for letter, (x, y) in zip(panel_letters, [(198, 49), (1435, 46), (2682, 49)]):
    fig.text(x / W, 1 - y / H, letter, fontsize=60, ha='center', va='center')
for lab, (x, y) in zip(row_labels, [(60, 497), (60, 1536), (58, 2624)]):
    fig.text(x / W, 1 - y / H, lab, fontsize=48, ha='center', va='center')

fig.savefig('out.png', dpi=DPI, facecolor='white')
